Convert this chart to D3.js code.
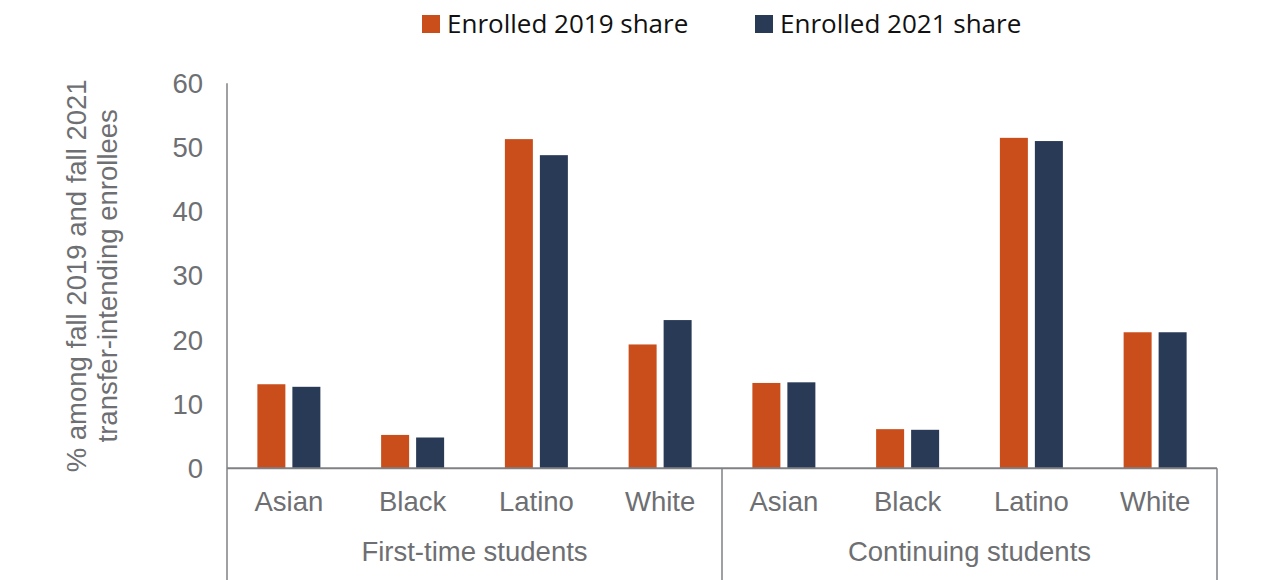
<!DOCTYPE html>
<html><head><meta charset="utf-8">
<script src="https://cdn.jsdelivr.net/npm/d3@7"></script>
<style>body{margin:0;background:#fff;}svg{display:block;}</style>
</head><body>
<svg id="chart" width="1280" height="580"></svg>
<script>
const groups = ["First-time students", "Continuing students"];
const races = ["Asian", "Black", "Latino", "White"];
const seriesNames = ["Enrolled 2019 share", "Enrolled 2021 share"];
const enrolled2019 = [13.1, 5.2, 51.3, 19.3, 13.3, 6.1, 51.5, 21.2];
const enrolled2021 = [12.7, 4.8, 48.8, 23.1, 13.4, 6.0, 51.0, 21.2];
const yTicks = [0, 10, 20, 30, 40, 50, 60];
const colors = ["#CA4E1B", "#283A55"];

const svg = d3.select("#chart");
const mLeft = 227, mRight = 1217, mTop = 83.3, mBase = 468.3;
const font = "'Liberation Sans', Arial, sans-serif";
const fs = 27.5;
const grey = "#6E6F72";

const cats = [];
groups.forEach((g, gi) => races.forEach((r, ri) => cats.push({g, r, key: g + "|" + r, i: gi * races.length + ri})));

const x = d3.scaleBand().domain(cats.map(c => c.key)).range([mLeft, mRight]).padding(0);
const xg = d3.scaleBand().domain(groups).range([mLeft, mRight]).padding(0);
const inner = d3.scaleBand().domain(seriesNames).range([0, 63]).paddingInner(0.2);
const y = d3.scaleLinear().domain([0, 60]).range([mBase, mTop]);

// y axis
const yAxis = d3.axisLeft(y).tickValues(yTicks).tickSize(0).tickPadding(24);
const yg = svg.append("g").attr("transform", `translate(${mLeft},0)`).call(yAxis);
yg.select(".domain").remove();
yg.selectAll("text").attr("font-family", font).attr("font-size", fs).attr("fill", grey).attr("dy", "0.33em");

// bars
const data = [enrolled2019, enrolled2021];
const off = (x.bandwidth() - 63) / 2;
seriesNames.forEach((s, si) => {
  svg.append("g").selectAll("rect").data(cats).join("rect")
    .attr("x", c => x(c.key) + off + inner(s))
    .attr("width", inner.bandwidth())
    .attr("y", c => y(data[si][c.i]))
    .attr("height", c => mBase - y(data[si][c.i]))
    .attr("fill", colors[si]);
});

// axis lines
const lineColor = "#7F8185";
svg.append("line").attr("x1", mLeft).attr("x2", mLeft).attr("y1", mTop).attr("y2", 580).attr("stroke", lineColor).attr("stroke-width", 1.5);
svg.append("line").attr("x1", mLeft).attr("x2", mRight).attr("y1", mBase).attr("y2", mBase).attr("stroke", lineColor).attr("stroke-width", 2);
groups.forEach(g => {
  const xe = xg(g) + xg.bandwidth();
  svg.append("line").attr("x1", xe).attr("x2", xe).attr("y1", mBase).attr("y2", 580).attr("stroke", lineColor).attr("stroke-width", 1.5);
});

// category labels
svg.append("g").selectAll("text").data(cats).join("text")
  .attr("x", c => x(c.key) + x.bandwidth() / 2).attr("y", 511)
  .attr("text-anchor", "middle").attr("font-family", font).attr("font-size", fs).attr("fill", grey)
  .text(c => c.r);
svg.append("g").selectAll("text").data(groups).join("text")
  .attr("x", g => xg(g) + xg.bandwidth() / 2).attr("y", 561)
  .attr("text-anchor", "middle").attr("font-family", font).attr("font-size", fs).attr("fill", grey)
  .text(g => g);

// y title
const yt = svg.append("text").attr("transform", `translate(86,${(mTop + mBase) / 2}) rotate(-90)`)
  .attr("text-anchor", "middle").attr("font-family", font).attr("font-size", fs).attr("fill", grey);
yt.append("tspan").attr("x", 0).attr("dy", 0).text("% among fall 2019 and fall 2021");
yt.append("tspan").attr("x", 0).attr("dy", 31).text("transfer-intending enrollees");

// legend
const legX = [422, 755];
seriesNames.forEach((s, si) => {
  svg.append("rect").attr("x", legX[si]).attr("y", 15).attr("width", 18).attr("height", 18).attr("fill", colors[si]);
  svg.append("text").attr("x", legX[si] + 25).attr("y", 33).attr("font-family", "'Open Sans', 'Noto Sans', sans-serif")
    .attr("font-size", 26).attr("fill", "#111").text(s);
});
</script>
</body></html>
